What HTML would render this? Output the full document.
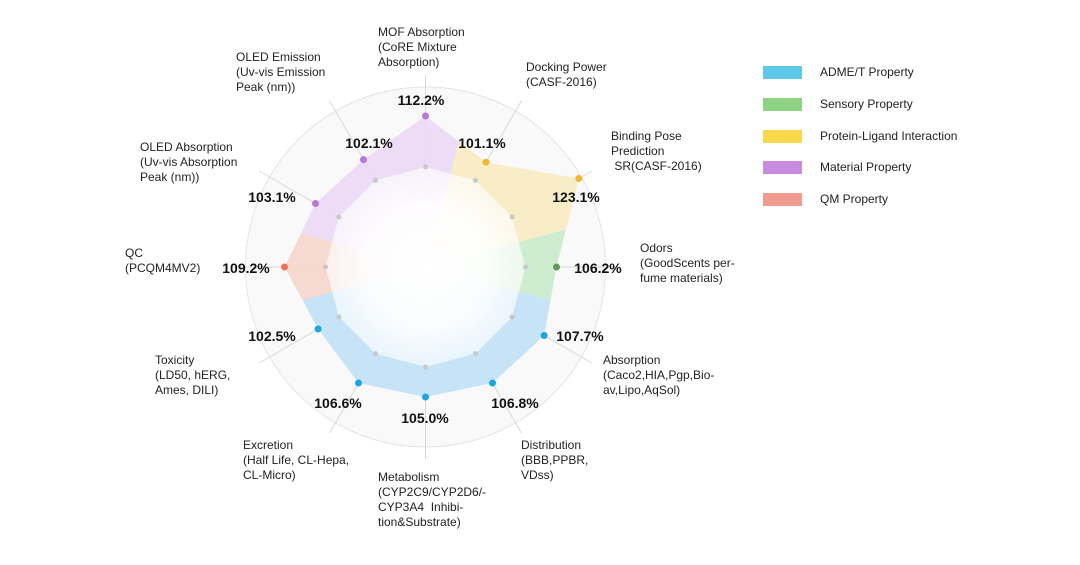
<!DOCTYPE html>
<html><head><meta charset="utf-8"><style>
body{margin:0;width:1080px;height:565px;background:#fff;overflow:hidden;position:relative;font-family:"Liberation Sans",sans-serif;}
.l{position:absolute;font-size:12px;line-height:15px;color:#222;white-space:nowrap;}
.v{position:absolute;font-size:14px;font-weight:bold;color:#111;transform:translate(-50%,-50%);white-space:nowrap;}
.sw{position:absolute;left:763px;width:39px;height:13px;}
.lt{position:absolute;left:820px;font-size:12px;color:#222;}
</style></head><body>
<svg id="s" width="1080" height="565" style="position:absolute;left:0;top:0"></svg>
<div class="l" style="left:378px;top:25px">MOF Absorption<br>(CoRE Mixture<br>Absorption)</div>
<div class="l" style="left:526px;top:60px">Docking Power<br>(CASF-2016)</div>
<div class="l" style="left:611px;top:129px">Binding Pose<br>Prediction<br>&nbsp;SR(CASF-2016)</div>
<div class="l" style="left:640px;top:241px">Odors<br>(GoodScents per-<br>fume materials)</div>
<div class="l" style="left:603px;top:353px">Absorption<br>(Caco2,HIA,Pgp,Bio-<br>av,Lipo,AqSol)</div>
<div class="l" style="left:521px;top:438px">Distribution<br>(BBB,PPBR,<br>VDss)</div>
<div class="l" style="left:378px;top:470px">Metabolism<br>(CYP2C9/CYP2D6/-<br>CYP3A4&nbsp; Inhibi-<br>tion&amp;Substrate)</div>
<div class="l" style="left:243px;top:438px">Excretion<br>(Half Life, CL-Hepa,<br>CL-Micro)</div>
<div class="l" style="left:155px;top:353px">Toxicity<br>(LD50, hERG,<br>Ames, DILI)</div>
<div class="l" style="left:125px;top:246px">QC<br>(PCQM4MV2)</div>
<div class="l" style="left:140px;top:140px">OLED Absorption<br>(Uv-vis Absorption<br>Peak (nm))</div>
<div class="l" style="left:236px;top:50px">OLED Emission<br>(Uv-vis Emission<br>Peak (nm))</div>
<div class="v" style="left:421px;top:100px">112.2%</div>
<div class="v" style="left:482px;top:143px">101.1%</div>
<div class="v" style="left:576px;top:197px">123.1%</div>
<div class="v" style="left:598px;top:268px">106.2%</div>
<div class="v" style="left:580px;top:336px">107.7%</div>
<div class="v" style="left:515px;top:403px">106.8%</div>
<div class="v" style="left:425px;top:418px">105.0%</div>
<div class="v" style="left:338px;top:403px">106.6%</div>
<div class="v" style="left:272px;top:336px">102.5%</div>
<div class="v" style="left:246px;top:268px">109.2%</div>
<div class="v" style="left:272px;top:197px">103.1%</div>
<div class="v" style="left:369px;top:143px">102.1%</div>
<div class="sw" style="top:66px;background:#5ec8ea"></div><div class="lt" style="top:65px">ADME/T Property</div>
<div class="sw" style="top:98px;background:#8fd283"></div><div class="lt" style="top:97px">Sensory Property</div>
<div class="sw" style="top:130px;background:#f7d84a"></div><div class="lt" style="top:129px">Protein-Ligand Interaction</div>
<div class="sw" style="top:161px;background:#c98be0"></div><div class="lt" style="top:160px">Material Property</div>
<div class="sw" style="top:193px;background:#f09a90"></div><div class="lt" style="top:192px">QM Property</div>
<script>
var cx=425.5,cy=267,N='http://www.w3.org/2000/svg',s=document.getElementById('s');
var R=[151,121,177,131,137,134,130,134,124,141,127,124];
var dc=['#b57ad8','#f0b92a','#f0b92a','#5e9a5e','#1ea5dd','#1ea5dd','#1ea5dd','#1ea5dd','#1ea5dd','#e8735c','#b57ad8','#b57ad8'];
function P(a,r){var t=(a-90)*Math.PI/180;return [cx+r*Math.cos(t),cy+r*Math.sin(t)];}
function el(n,at){var e=document.createElementNS(N,n);for(var k in at)e.setAttribute(k,at[k]);s.appendChild(e);return e;}
s.innerHTML='<defs><radialGradient id="g"><stop offset="0" stop-color="#fff" stop-opacity="1"/><stop offset="0.6" stop-color="#fff" stop-opacity="0.92"/><stop offset="1" stop-color="#fff" stop-opacity="0.6"/></radialGradient><clipPath id="cp"><polygon id="op"/></clipPath></defs>';
el('circle',{cx:cx,cy:cy,r:180,fill:'#f9f9f9',stroke:'#e4e4e4','stroke-width':1});
for(var i=0;i<12;i++){var a=P(i*30,0),b=P(i*30,192);el('line',{x1:a[0],y1:a[1],x2:b[0],y2:b[1],stroke:'#d8d8d8','stroke-width':1});}
var op=[];for(var i=0;i<12;i++)op.push(P(i*30,R[i]).join(','));
document.getElementById('op').setAttribute('points',op.join(' '));
var sec=[[-75,15,'#ecdaf5'],[15,75,'#f8ecc4'],[75,105,'#cbeccd'],[105,255,'#c3e3f5'],[255,285,'#f5d8d0']];
sec.forEach(function(q){var pts=[cx+','+cy];for(var a=q[0];a<=q[1];a+=5)pts.push(P(a,300).join(','));
el('polygon',{points:pts.join(' '),fill:q[2],'fill-opacity':0.95,'clip-path':'url(#cp)'});});
var ip=[];for(var i=0;i<12;i++)ip.push(P(i*30,100).join(','));
el('polygon',{points:ip.join(' '),fill:'url(#g)'});
for(var i=0;i<12;i++){var p=P(i*30,100);el('circle',{cx:p[0],cy:p[1],r:2.5,fill:'#c8c8c8'});
var q=P(i*30,R[i]);el('circle',{cx:q[0],cy:q[1],r:3.5,fill:dc[i]});}
</script>
</body></html>
